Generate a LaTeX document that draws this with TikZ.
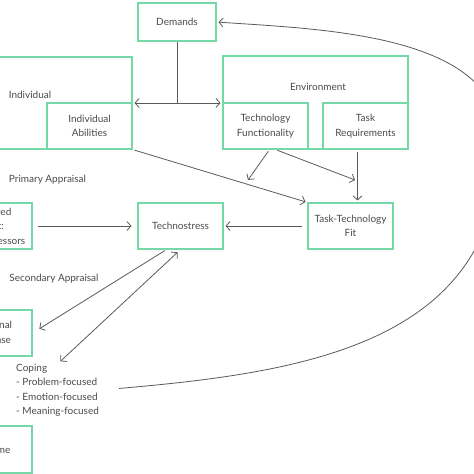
\documentclass[tikz,border=0pt]{standalone}
\usepackage{fontspec}
\setmainfont{Lato}
\usepackage{xcolor}
\usetikzlibrary{arrows.meta}
\definecolor{boxgreen}{HTML}{74D9A6}
\definecolor{textgray}{HTML}{4A4A4A}
\definecolor{linegray}{HTML}{5A5A5A}

\tikzset{
  box/.style={draw=boxgreen, line width=1.1pt, text centered, align=center, text=textgray, font=\fontsize{10}{14.5}\selectfont},
  lbl/.style={text=textgray, font=\fontsize{10}{14.5}\selectfont},
  arr/.style={draw=linegray, line width=0.8pt, ->},
  >={Straight Barb[length=4pt,width=9pt]}
}

\begin{document}
\begin{tikzpicture}[x=1pt, y=1pt]%
\useasboundingbox (0,0) rectangle (474,474);%
% boxes
\node[box, minimum width=78pt, minimum height=38pt] (demands) at (177, 452) {Demands};%
\node[box, minimum width=192pt, minimum height=92pt] (indiv) at (36, 371) {};%
\node[lbl] (indivlbl) at (30, 379) {Individual};%
\node[box, minimum width=85pt, minimum height=46pt] (abil) at (89.5, 348) {Individual\\Abilities};%
\node[box, minimum width=185pt, minimum height=93pt] (env) at (315.5, 371.5) {};%
\node[lbl] (envlbl) at (318, 387) {Environment};%
\node[box, minimum width=85pt, minimum height=46pt] (techf) at (265.5, 348) {Technology\\Functionality};%
\node[box, minimum width=85pt, minimum height=46pt] (taskr) at (365.5, 348) {Task\\Requirements};%
\node[box, minimum width=85pt, minimum height=46pt] (techno) at (180.5, 248) {Technostress};%
\node[box, minimum width=85pt, minimum height=46pt] (ttf) at (350.5, 248) {Task-Technology\\Fit};%
\node[box, minimum width=84pt, minimum height=46pt] (misfit) at (-10, 248) {Perceived\\Misfit:\\Technostressors};%
\node[box, minimum width=84pt, minimum height=46pt] (emo) at (-10, 141) {Emotional\\Response};%
\node[box, minimum width=84pt, minimum height=47pt] (outcome) at (-10, 24.5) {Outcome};%
% labels
\node[lbl] (primary) at (47.5, 294) {Primary Appraisal};%
\node[lbl] (secondary) at (54, 195) {Secondary Appraisal};%
\node[lbl, align=left, anchor=north west, inner sep=0pt, font=\fontsize{10}{14.3}\selectfont] (coping) at (16, 110) {Coping\\- Problem-focused\\- Emotion-focused\\- Meaning-focused};%
% free ends
\coordinate (tfend) at (248, 294);%
\coordinate (reqend) at (355, 294);%
\coordinate (bend) at (500, 332);%
% connectors
\draw[draw=linegray, line width=0.8pt] (demands.south) -- (demands.south |- indiv.east);%
\draw[arr, <->, shorten <=2pt, shorten >=2pt] (indiv.east) -- (indiv.east -| env.west);%
\draw[arr, shorten <=2pt] ([xshift=4pt]techf.south) -- (tfend);%
\draw[arr, shorten <=2pt] ([xshift=10pt]techf.south) -- (reqend);%
\draw[arr, shorten <=2pt, shorten >=2pt] ([xshift=-8pt]taskr.south) -- ([xshift=-8pt]taskr.south |- ttf.north);%
\draw[arr, shorten <=2pt, shorten >=2pt] (abil.south east) -- (ttf.north west);%
\draw[arr, shorten <=5pt, shorten >=2pt] (ttf.west) -- (techno.east);%
\draw[arr, shorten <=5pt, shorten >=6pt] (misfit.east) -- (techno.west);%
\draw[arr, shorten <=2pt, shorten >=8pt] ([xshift=-14pt]techno.south) -- (emo.east);%
\draw[arr, <->, shorten <=4pt, shorten >=4pt] (techno.south) -- (coping.north);%
\draw[arr, shorten <=20pt, shorten >=2pt] (coping.east) to[out=5, in=-90, looseness=1.1] (bend) to[out=90, in=-4, looseness=0.9] (demands.east);%
\end{tikzpicture}
\end{document}
